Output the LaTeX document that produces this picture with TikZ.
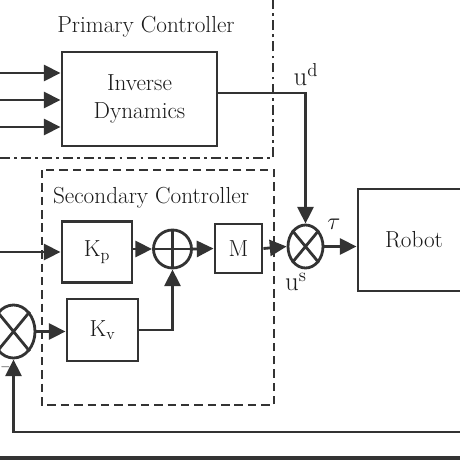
\documentclass[tikz,border=0pt]{standalone}
\usepackage{tikz}
\usetikzlibrary{positioning,arrows.meta,shapes.geometric,calc}
\definecolor{ink}{HTML}{333333}
\definecolor{txt}{HTML}{1A1A1A}
\tikzset{
  blk/.style={rectangle,draw=ink,line width=2pt,fill=white,align=center,
    font=\fontsize{16.5}{20}\selectfont,text=txt,inner sep=0pt},
  junc/.style={ellipse,draw=ink,line width=2pt,inner sep=0pt},
  ar/.style={-{Triangle[length=4.2mm,width=4mm]},line width=2pt,draw=ink},
  ln/.style={line width=2pt,draw=ink},
  lbl/.style={font=\fontsize{16.5}{20}\selectfont,text=txt},
  sig/.style={font=\fontsize{19}{22}\selectfont,text=txt},
  grp/.style={draw=ink,line width=1.5pt},
}
\begin{document}
\begin{tikzpicture}[x=0.025cm,y=-0.025cm]
  \useasboundingbox (0,0) rectangle (460,460);
  % controller groups
  \draw[grp,dash pattern=on 7pt off 3pt on 2pt off 3pt] (0,158) -- (273,158) -- (273,-10);
  \draw[grp,dash pattern=on 6pt off 3.5pt] (42,170) rectangle (274,405);
  \node[lbl] (ptitle) at (146,27) {Primary Controller};
  \node[lbl] (stitle) at (151,198) {Secondary Controller};
  % blocks
  \node[blk,minimum width=3.875cm,minimum height=2.35cm] (id) at (139.5,99) {Inverse\\Dynamics};
  \node[blk,minimum width=1.75cm,minimum height=1.525cm] (kp) at (97,252) {K\textsubscript{p}};
  \node[blk,minimum width=1.775cm,minimum height=1.55cm] (kv) at (102.5,330) {K\textsubscript{v}};
  \node[blk,minimum width=1.175cm,minimum height=1.225cm] (mm) at (238.5,248.5) {M};
  \node[blk,minimum width=2.8cm,minimum height=2.55cm] (robot) at (414,240) {Robot};
  % junctions
  \node[junc,minimum width=0.95cm,minimum height=0.95cm] (sum) at (172.5,249) {};
  \draw[ln] (sum.north) -- (sum.south) (sum.west) -- (sum.east);
  \node[junc,minimum width=0.875cm,minimum height=1.075cm] (mult) at (305.5,246.5) {};
  \draw[ln] (mult.north west) -- (mult.south east) (mult.north east) -- (mult.south west);
  \node[junc,minimum width=1.075cm,minimum height=1.325cm] (err) at (13.5,331.5) {};
  \draw[ln] (err.north west) -- (err.south east) (err.north east) -- (err.south west);
  % free ends
  \coordinate (in1) at (-5,73);
  \coordinate (in2) at (-5,100);
  \coordinate (in3) at (-5,127);
  \coordinate (in4) at (-5,252);
  \coordinate (fb) at (470,432);
  % connectors
  \draw[ar] (in1) -- (in1 -| id.west);
  \draw[ar] (in2) -- (in2 -| id.west);
  \draw[ar] (in3) -- (in3 -| id.west);
  \draw[ar] (in4) -- (kp.west);
  \draw[ar] (id.east |- 0,93) -| (mult.north);
  \draw[ar] (kp.east |- sum) -- (sum.west);
  \draw[ar] (sum.east) -- (mm.west);
  \draw[ar] (mm.east) -- (mult.west);
  \draw[ar] (mult.east) -- (mult.east -| robot.west);
  \draw[ar] (kv.east) -| (sum.south);
  \draw[ar] (err.east) -- (err.east -| kv.west);
  \draw[ar] (fb) -| (err.south);
  % signal labels
  \node[sig] (ud) at (306,75) {u\textsuperscript{d}};
  \node[sig] (tau) at (334,224) {$\tau$};
  \node[sig] (us) at (296,282) {u\textsuperscript{s}};
  \node[font=\fontsize{9}{10}\selectfont,text=txt,inner sep=0pt,anchor=west] (neg) at (0,367) {$-$};
  % frame
  \draw[line width=2.5pt,draw=ink] (0,458) -- (460,458);
\end{tikzpicture}
\end{document}
